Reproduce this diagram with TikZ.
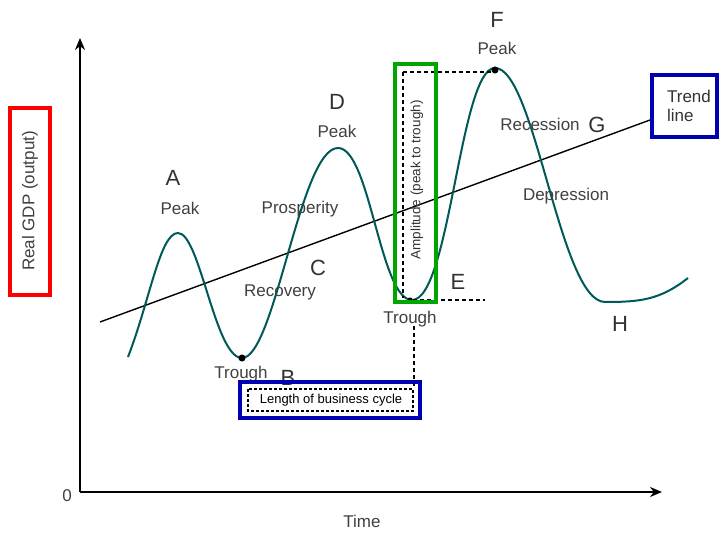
\documentclass[tikz,border=0pt]{standalone}
\usepackage{fontspec}
\setmainfont{Liberation Sans}
\usetikzlibrary{arrows.meta}
\begin{document}
\begin{tikzpicture}[x=1pt,y=-1pt,
 lbl/.style={font=\fontsize{17}{19}\selectfont,text=black!75},
 big/.style={font=\fontsize{22}{24}\selectfont,text=black!80},
 dot/.style={circle,fill=black,inner sep=2.5pt}]
\useasboundingbox (0,0) rectangle (720,540);
\fill[white] (0,0) rectangle (720,540);
% axes
\coordinate (O) at (80,492);
\coordinate (Y) at (80,38);
\coordinate (X) at (662,492);
\draw[line width=2.5pt,-{Stealth[length=12pt,width=10pt]}] (O) -- (Y);
\draw[line width=2.5pt,-{Stealth[length=12pt,width=10pt]}] (O) -- (X);
\node[lbl] (zero) at (67,496) {0};
\node[lbl] (time) at (362,521) {Time};
% trend line
\coordinate (t1) at (100,322); \coordinate (t2) at (650,120);
\draw[line width=1.4pt] (t1) -- (t2);
% wave
\draw[line width=2pt,teal!70!black] (128,357)
 .. controls (150,300) and (160,233) .. (178,233)
 .. controls (200,233) and (215,358) .. (242,358)
 .. controls (275,358) and (300,148) .. (338,148)
 .. controls (370,148) and (380,300) .. (412,300)
 .. controls (450,300) and (460,68) .. (495,68)
 .. controls (535,68) and (560,302) .. (605,302)
 .. controls (640,302) and (660,300) .. (688,278);
\node[dot] (dB) at (242,358) {};
\node[dot] (dF) at (495,70) {};
\node[dot,inner sep=1.8pt] (dE) at (410,300) {};
% dashed guides
\coordinate (g1) at (403,72); \coordinate (g2) at (403,298);
\coordinate (e2) at (485,300); \coordinate (v1) at (414,326); \coordinate (v2) at (414,388);
\draw[line width=1.8pt,dash pattern=on 4pt off 3pt] (g1) -- (g1 -| dF);
\draw[line width=1.8pt,dash pattern=on 4pt off 3pt] (g1) -- (g2);
\draw[line width=1.8pt,dash pattern=on 4pt off 3pt] (dE) -- (e2);
\draw[line width=1.8pt,dash pattern=on 4pt off 3pt] (v1) -- (v2);
% labels
\node[big] (A) at (173,178) {A}; \node[lbl] (pA) at (180,208) {Peak};
\node[big] (D) at (337,102) {D}; \node[lbl] (pD) at (337,131) {Peak};
\node[big] (F) at (497,20) {F}; \node[lbl] (pF) at (497,48) {Peak};
\node[lbl] (pros) at (300,209) {Prosperity};
\node[big] (C) at (318,268) {C};
\node[lbl] (rec) at (280,292) {Recovery};
\node[lbl] (trB) at (241,374) {Trough}; \node[big] (B) at (288,378) {B};
\node[lbl] (trE) at (410,319) {Trough}; \node[big] (E) at (458,282) {E};
\node[lbl] (recs) at (540,124) {Recession}; \node[big] (G) at (597,125) {G};
\node[lbl] (dep) at (566,196) {Depression};
\node[big] (H) at (620,324) {H};
% boxes
\draw[red,line width=3.5pt] (10,108) rectangle (50,295);
\node[lbl,rotate=90] (gdp) at (30,201) {Real GDP (output)};
\draw[green!65!black,line width=3.5pt] (395,64) rectangle (436,302);
\node[font=\fontsize{13.5}{15}\selectfont,rotate=90,text=black!80] (amp) at (417,180) {Amplitude (peak to trough)};
\draw[blue!70!black,line width=3.5pt] (240,382) rectangle (420,418);
\draw[line width=1.5pt,dash pattern=on 3pt off 2pt] (248,389) rectangle (413,411);
\node[font=\fontsize{13}{15}\selectfont] (len) at (331,400) {Length of business cycle};
\draw[blue!70!black,line width=3.5pt] (652,75) rectangle (717,137);
\node[lbl,align=left,text=black!80] (tl) at (689,106) {Trend\\line};
\end{tikzpicture}
\end{document}
